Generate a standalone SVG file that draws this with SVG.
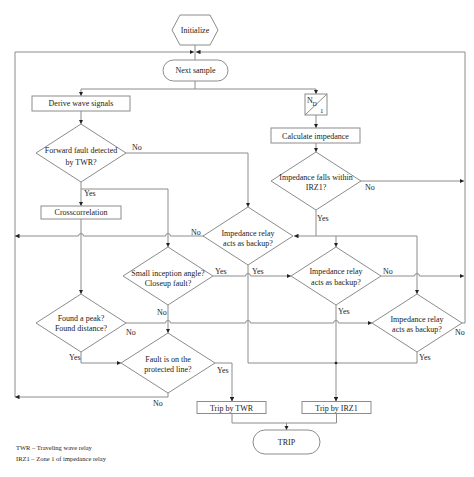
<svg xmlns="http://www.w3.org/2000/svg" width="474" height="477" viewBox="0 0 474 477">
<style>
.ln{fill:none;stroke:#8c8c8c;stroke-width:1}
.sh{fill:#fff;stroke:#8c8c8c;stroke-width:1}
text{font-family:"Liberation Serif","Times New Roman",serif;font-size:8px;fill:#222}
.c{text-anchor:middle}
.lg{font-size:6.5px}
.ar{marker-end:url(#a)}
</style>
<defs>
<marker id="a" viewBox="0 0 6 6" refX="6" refY="3" markerWidth="4.5" markerHeight="4.5" markerUnits="userSpaceOnUse" orient="auto">
<path d="M0,0 L6,3 L0,6 z" fill="#222"/>
</marker>
</defs>
<rect width="474" height="477" fill="#fff"/>
<g id="connectors">
<path class="ln" d="M195,45 V60"/>
<path class="ln ar" d="M15,397 V52 H194"/>
<path class="ln ar" d="M462,323 H465 V52 H196"/>
<path class="ln" d="M195,81 V89"/>
<path class="ln ar" d="M195,89 H81 V96"/>
<path class="ln ar" d="M195,89 H316 V94"/>
<path class="ln ar" d="M316,115 V128"/>
<path class="ln ar" d="M316,143 V152"/>
<path class="ln ar" d="M81,111 V124"/>
<path class="ln ar" d="M81,182 V206"/>
<path class="ln ar" d="M81,189 H168 V247"/>
<path class="ln ar" d="M126,153 H248 V207"/>
<path class="ln ar" d="M81,219 V294"/>
<path class="ln ar" d="M204,236 H170.5 A2.5,2.5 0 0 0 165.5,236 H83.5 A2.5,2.5 0 0 0 78.5,236 H15"/>
<path class="ln ar" d="M213,276 H245.5 A2.5,2.5 0 0 1 250.5,276 H291"/>
<path class="ln ar" d="M168,305 V333"/>
<path class="ln ar" d="M126,323 H165.5 A2.5,2.5 0 0 1 170.5,323 H245.5 A2.5,2.5 0 0 1 250.5,323 H333.5 A2.5,2.5 0 0 1 338.5,323 H372"/>
<path class="ln ar" d="M81,352 V363 H121"/>
<path class="ln ar" d="M215,363 H232 V401.5"/>
<path class="ln ar" d="M168,393 V397 H15"/>
<path class="ln ar" d="M361,181 H464"/>
<path class="ln" d="M316,210 V236"/>
<path class="ln ar" d="M316,236 H294"/>
<path class="ln ar" d="M316,236 H417 V294"/>
<path class="ln ar" d="M336,236 V247"/>
<path class="ln ar" d="M381,276 H414.5 A2.5,2.5 0 0 1 419.5,276 H464"/>
<path class="ln ar" d="M336,305 V401.5"/>
<path class="ln" d="M417,352 V363 H248 V265"/>
<circle cx="336" cy="363" r="1.3" fill="#222"/>
<path class="ln" d="M232,413.5 V423 H336.5 V413.5"/>
<path class="ln ar" d="M286.5,423 V430"/>
</g>
<g id="initialize">
<polygon class="sh" points="172,30 180,15 210,15 218,30 210,45 180,45"/>
<text class="c" x="195" y="33">Initialize</text>
</g>
<g id="next-sample">
<rect class="sh" x="163" y="60" width="65" height="21" rx="10.5"/>
<text class="c" x="195.5" y="73">Next sample</text>
</g>
<g id="derive">
<rect class="sh" x="32" y="96" width="98" height="15"/>
<text class="c" x="81" y="106">Derive wave signals</text>
</g>
<g id="nd-block">
<rect class="sh" x="305" y="94" width="22" height="21"/>
<path class="ln" d="M305,115 L327,94"/>
<text x="307" y="103" style="font-size:8px">N</text>
<text x="312.5" y="106" style="font-size:6px">D</text>
<text x="320" y="113" style="font-size:7px">1</text>
</g>
<g id="calc-impedance">
<rect class="sh" x="271" y="128" width="89" height="15"/>
<text class="c" x="315.5" y="138.5">Calculate impedance</text>
</g>
<g id="forward-fault">
<polygon class="sh" points="81,124 126,153 81,182 36,153"/>
<text class="c" x="81" y="153">Forward fault detected</text>
<text class="c" x="81" y="165">by TWR?</text>
<text x="132" y="150">No</text>
<text x="84" y="196">Yes</text>
</g>
<g id="crosscorrelation">
<rect class="sh" x="41" y="206" width="80" height="13"/>
<text class="c" x="81" y="215">Crosscorrelation</text>
</g>
<g id="irz1">
<polygon class="sh" points="316,152 361,181 316,210 271,181"/>
<text class="c" x="316" y="180">Impedance falls within</text>
<text class="c" x="316" y="190">IRZ1?</text>
<text x="365" y="190">No</text>
<text x="317" y="221">Yes</text>
</g>
<g id="backup-1">
<polygon class="sh" points="248,207 293,236 248,265 203,236"/>
<text class="c" x="248" y="236">Impedance relay</text>
<text class="c" x="248" y="246">acts as backup?</text>
<text x="191" y="234.5">No</text>
<text x="252" y="274">Yes</text>
</g>
<g id="small-inception">
<polygon class="sh" points="168,247 213,276 168,305 123,276"/>
<text class="c" x="168" y="276">Small inception angle?</text>
<text class="c" x="168" y="286">Closeup fault?</text>
<text x="215" y="274">Yes</text>
<text x="157" y="315">No</text>
</g>
<g id="backup-2">
<polygon class="sh" points="336,247 381,276 336,305 291,276"/>
<text class="c" x="336" y="274">Impedance relay</text>
<text class="c" x="336" y="285">acts as backup?</text>
<text x="383" y="274">No</text>
<text x="338" y="314">Yes</text>
</g>
<g id="found-peak">
<polygon class="sh" points="81,294 126,323 81,352 36,323"/>
<text class="c" x="81" y="321">Found a peak?</text>
<text class="c" x="81" y="331">Found distance?</text>
<text x="126" y="335">No</text>
<text x="69" y="360">Yes</text>
</g>
<g id="backup-3">
<polygon class="sh" points="417,294 462,323 417,352 372,323"/>
<text class="c" x="417" y="322">Impedance relay</text>
<text class="c" x="417" y="332">acts as backup?</text>
<text x="455" y="335">No</text>
<text x="419" y="360">Yes</text>
</g>
<g id="fault-line">
<polygon class="sh" points="168,333 215,363 168,393 121,363"/>
<text class="c" x="168" y="362">Fault is on the</text>
<text class="c" x="168" y="372">protected line?</text>
<text x="217" y="373">Yes</text>
<text x="153" y="406">No</text>
</g>
<g id="trip-twr">
<rect class="sh" x="197" y="401.5" width="69" height="12"/>
<text class="c" x="231.5" y="410.5">Trip by TWR</text>
</g>
<g id="trip-irz1">
<rect class="sh" x="302" y="401.5" width="69" height="12"/>
<text class="c" x="336.5" y="410.5">Trip by IRZ1</text>
</g>
<g id="trip">
<rect class="sh" x="253" y="430" width="67" height="24" rx="12"/>
<text class="c" x="286.5" y="445">TRIP</text>
</g>
<g id="legend">
<text class="lg" x="16" y="450">TWR – Traveling wave relay</text>
<text class="lg" x="16" y="461">IRZ1 – Zone 1 of impedance relay</text>
</g>
</svg>
